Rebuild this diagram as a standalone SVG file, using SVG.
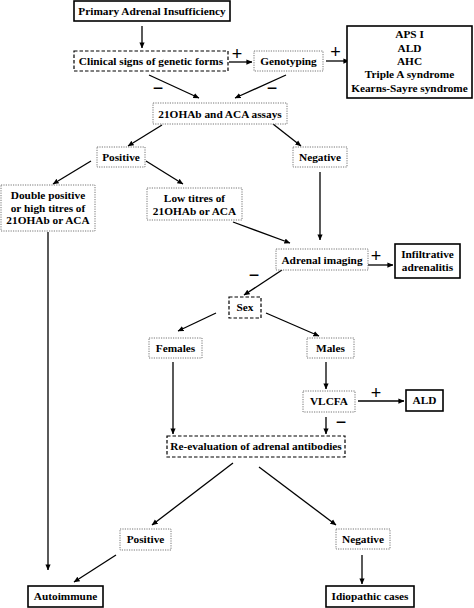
<svg xmlns="http://www.w3.org/2000/svg" width="474" height="608" viewBox="0 0 474 608">
<defs>
<marker id="ah" viewBox="0 0 8 8" refX="7.5" refY="4" markerWidth="6" markerHeight="6" markerUnits="userSpaceOnUse" orient="auto">
<path d="M0,0.5 L8,4 L0,7.5 Z" fill="#000"/>
</marker>
<style>
text{font-family:"Liberation Serif","Times New Roman",serif;font-weight:bold;font-size:11.3px;fill:#000;text-anchor:middle}
.sign{font-family:"Liberation Sans",Arial,sans-serif;font-weight:normal;font-size:18px}
.solid{fill:#fff;stroke:#000;stroke-width:1.6}
.dash{fill:#fff;stroke:#000;stroke-width:1.2;stroke-dasharray:3.5 2}
.dot{fill:#fff;stroke:#666;stroke-width:0.9;stroke-dasharray:1.2 1.2}
.c{fill:none;stroke:#000;stroke-width:1.3;marker-end:url(#ah)}
</style>
</defs>
<rect width="474" height="608" fill="#fff"/>

<g id="connectors">
<line class="c" x1="142" y1="26" x2="142" y2="48"/>
<line class="c" x1="229" y1="62" x2="252" y2="62"/>
<line class="c" x1="326" y1="61" x2="349" y2="61"/>
<line class="c" x1="149" y1="75" x2="199" y2="98"/>
<line class="c" x1="286" y1="75" x2="235" y2="98"/>
<line class="c" x1="162" y1="125" x2="128" y2="146"/>
<line class="c" x1="273" y1="124" x2="301" y2="146"/>
<line class="c" x1="91" y1="161" x2="53" y2="184"/>
<line class="c" x1="146" y1="161" x2="183" y2="184"/>
<line class="c" x1="320" y1="172" x2="320" y2="240"/>
<line class="c" x1="233" y1="222" x2="290" y2="243"/>
<line class="c" x1="48" y1="232" x2="48" y2="570"/>
<line class="c" x1="368" y1="265" x2="393" y2="265"/>
<line class="c" x1="282" y1="270" x2="244" y2="295"/>
<line class="c" x1="216" y1="313" x2="178" y2="331"/>
<line class="c" x1="266" y1="313" x2="319" y2="336"/>
<line class="c" x1="173" y1="362" x2="173" y2="434"/>
<line class="c" x1="326" y1="362" x2="326" y2="389"/>
<line class="c" x1="358" y1="401" x2="404" y2="401"/>
<line class="c" x1="326" y1="417" x2="326" y2="434"/>
<line class="c" x1="233" y1="463" x2="152" y2="525"/>
<line class="c" x1="259" y1="467" x2="336" y2="525"/>
<line class="c" x1="116" y1="555" x2="74" y2="582"/>
<line class="c" x1="362" y1="555" x2="362" y2="584"/>
<text class="sign" x="237" y="59.5">+</text>
<text class="sign" x="335.5" y="58">+</text>
<text class="sign" x="158" y="94">−</text>
<text class="sign" x="272" y="94">−</text>
<text class="sign" x="376" y="261.5">+</text>
<text class="sign" x="254" y="281">−</text>
<text class="sign" x="376" y="399">+</text>
<text class="sign" x="341" y="428">−</text>
</g>

<g id="n-pai"><rect class="solid" x="74" y="1" width="156" height="20"/><text x="152" y="15">Primary Adrenal Insufficiency</text></g>
<g id="n-clinical"><rect class="dash" x="74" y="51" width="154" height="20"/><text x="151" y="65">Clinical signs of genetic forms</text></g>
<g id="n-geno"><rect class="dot" x="254" y="51" width="69" height="20"/><text x="288.5" y="65">Genotyping</text></g>
<g id="n-aps"><rect class="solid" x="347" y="26" width="125" height="72"/>
<text x="409.5" y="38">APS I</text><text x="409.5" y="52">ALD</text><text x="409.5" y="65">AHC</text><text x="409.5" y="78">Triple A syndrome</text><text x="409.5" y="92">Kearns-Sayre syndrome</text></g>
<g id="n-assays"><rect class="dot" x="153" y="103" width="134" height="21"/><text x="220" y="118">21OHAb and ACA assays</text></g>
<g id="n-pos1"><rect class="dot" x="97" y="147" width="48" height="20"/><text x="121" y="161">Positive</text></g>
<g id="n-neg1"><rect class="dot" x="293" y="147" width="54" height="20"/><text x="320" y="161">Negative</text></g>
<g id="n-double"><rect class="dot" x="1" y="185" width="94" height="46"/><text x="48" y="199">Double positive</text><text x="48" y="212">or high titres of</text><text x="48" y="224">21OHAb or ACA</text></g>
<g id="n-low"><rect class="dot" x="147" y="188" width="95" height="32"/><text x="194.5" y="202">Low titres of</text><text x="194.5" y="215">21OHAb or ACA</text></g>
<g id="n-imaging"><rect class="dot" x="276" y="249" width="92" height="21"/><text x="322" y="264">Adrenal imaging</text></g>
<g id="n-infil"><rect class="solid" x="395" y="244" width="65" height="34"/><text x="427.5" y="258">Infiltrative</text><text x="427.5" y="271">adrenalitis</text></g>
<g id="n-sex"><rect class="dash" x="229" y="297" width="32" height="21"/><text x="245" y="311">Sex</text></g>
<g id="n-females"><rect class="dot" x="149" y="338" width="53" height="20"/><text x="175.5" y="352">Females</text></g>
<g id="n-males"><rect class="dot" x="307" y="338" width="47" height="20"/><text x="330.5" y="352">Males</text></g>
<g id="n-vlcfa"><rect class="dot" x="303" y="391" width="52" height="21"/><text x="329" y="405">VLCFA</text></g>
<g id="n-ald"><rect class="solid" x="406" y="390" width="37" height="21"/><text x="424.5" y="404">ALD</text></g>
<g id="n-reeval"><rect class="dash" x="167" y="436" width="178" height="21"/><text x="256" y="450">Re-evaluation of adrenal antibodies</text></g>
<g id="n-pos2"><rect class="dot" x="120" y="529" width="51" height="21"/><text x="145.5" y="543">Positive</text></g>
<g id="n-neg2"><rect class="dot" x="336" y="529" width="54" height="20"/><text x="363" y="543">Negative</text></g>
<g id="n-auto"><rect class="solid" x="28" y="586" width="75" height="21"/><text x="65.5" y="600">Autoimmune</text></g>
<g id="n-idio"><rect class="solid" x="326" y="586" width="88" height="21"/><text x="370" y="600">Idiopathic cases</text></g>
</svg>
